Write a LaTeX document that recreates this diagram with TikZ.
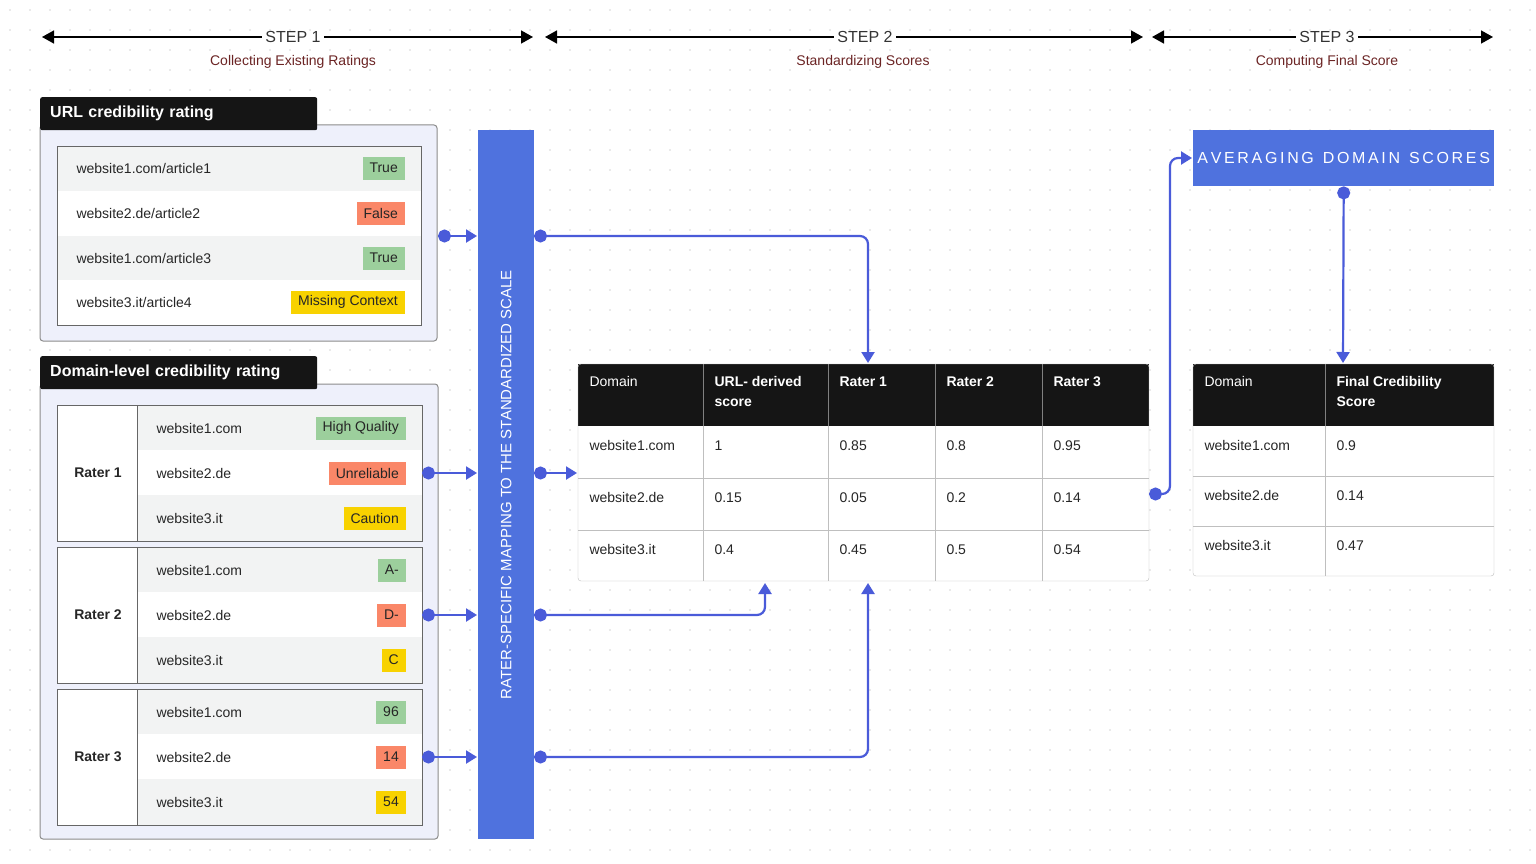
\documentclass[tikz,border=0pt]{standalone}
\usepackage{fontspec}
\setmainfont{Liberation Sans}
\usetikzlibrary{positioning,arrows.meta}
\definecolor{barblue}{HTML}{4F72DE}
\definecolor{linkblue}{HTML}{4A5BD9}
\definecolor{panelbg}{HTML}{EEF0FB}
\definecolor{rowgray}{HTML}{F2F3F3}
\definecolor{tgreen}{HTML}{9CCF9C}
\definecolor{tred}{HTML}{FA8768}
\definecolor{tyellow}{HTML}{F8D200}
\definecolor{subred}{HTML}{6B2424}
\definecolor{dotgray}{HTML}{D6D6D6}
\definecolor{headblack}{HTML}{151515}
\tikzset{
  body/.style={font=\fontsize{14}{16}\selectfont, text=black!85},
  tagbox/.style={body, inner xsep=7, inner ysep=0, minimum height=23, anchor=east},
  panelhead/.style={fill=headblack, text=white, font=\fontsize{16}{18}\selectfont\bfseries, anchor=north west, minimum width=277, minimum height=33, text width=257, inner xsep=10, rounded corners=2},
  panel/.style={fill=panelbg, draw=black!45, line width=1, rounded corners=3},
  conn/.style={linkblue, line width=2.2, {Circle[length=13pt]}-{Triangle[length=11pt,width=13pt]}, rounded corners=8},
  steptext/.style={font=\fontsize{16}{18}\selectfont, text=black!80},
  subtext/.style={font=\fontsize{14}{16}\selectfont, text=subred},
  steptip/.style={line width=1.6, {Triangle[length=12pt,width=13pt]}-},
  steptipb/.style={line width=1.6, -{Triangle[length=12pt,width=13pt]}},
  th/.style={font=\fontsize{14}{20}\selectfont\bfseries, text=white, anchor=north west, align=left},
  td/.style={body, anchor=north west}
}
\begin{document}
\begin{tikzpicture}[x=1pt,y=-1pt]
\useasboundingbox (0,0) rectangle (1536,864);
\fill[white] (0,0) rectangle (1536,864);
\foreach \x in {10,30,...,1530}
  \foreach \y in {10,30,...,850}
    \fill[dotgray] (\x,\y) circle (0.9);

% steps
\node[steptext] (s1) at (293,37) {STEP 1};
\node[subtext] (s1sub) at (293,62) {Collecting Existing Ratings};
\node[steptext] (s2) at (865,37) {STEP 2};
\node[subtext] (s2sub) at (863,62) {Standardizing Scores};
\node[steptext] (s3) at (1327,37) {STEP 3};
\node[subtext] (s3sub) at (1327,62) {Computing Final Score};
\coordinate (s1a) at (42,37);  \coordinate (s1b) at (533,37);
\coordinate (s2a) at (545,37); \coordinate (s2b) at (1143,37);
\coordinate (s3a) at (1152,37); \coordinate (s3b) at (1493,37);
\draw[steptip] (s1a) -- (s1.west);
\draw[steptipb] (s1.east) -- (s1b);
\draw[steptip] (s2a) -- (s2.west);
\draw[steptipb] (s2.east) -- (s2b);
\draw[steptip] (s3a) -- (s3.west);
\draw[steptipb] (s3.east) -- (s3b);

% URL credibility rating
\draw[panel] (40,125) rectangle (437,341);
\node[panelhead] (urlhead) at (40,97) {URL credibility rating};
\fill[white] (57,146) rectangle (421,325);
\fill[rowgray] (57,146) rectangle (421,191);
\fill[rowgray] (57,236) rectangle (421,280);
\draw[black!60, line width=1] (57,146) rectangle (421,325);
\node[td, anchor=west] (u1) at (73,168) {website1.com/article1};
\node[td, anchor=west] (u2) at (73,213) {website2.de/article2};
\node[td, anchor=west] (u3) at (73,258) {website1.com/article3};
\node[td, anchor=west] (u4) at (73,302) {website3.it/article4};
\node[tagbox, fill=tgreen] (t1) at (405,168) {True};
\node[tagbox, fill=tred] (t2) at (405,213) {False};
\node[tagbox, fill=tgreen] (t3) at (405,258) {True};
\node[tagbox, fill=tyellow] (t4) at (405,302) {Missing Context};

% Domain-level credibility rating
\draw[panel] (40,384) rectangle (438,839);
\node[panelhead] (domhead) at (40,356) {Domain-level credibility rating};
\foreach \g/\top/\rater in {1/405/Rater 1, 2/547/Rater 2, 3/689/Rater 3} {
  \fill[white] (57,\top) rectangle (422,\top+136);
  \fill[rowgray] (137,\top) rectangle (422,\top+45);
  \fill[rowgray] (137,\top+90) rectangle (422,\top+136);
  \draw[black!60, line width=1] (57,\top) rectangle (422,\top+136);
  \draw[black!60, line width=1] (137,\top) -- (137,\top+136);
  \node[body, font=\fontsize{14}{16}\selectfont\bfseries] (r\g) at (98,\top+68) {\rater};
  \node[td, anchor=west] (d\g a) at (153,\top+23) {website1.com};
  \node[td, anchor=west] (d\g b) at (153,\top+68) {website2.de};
  \node[td, anchor=west] (d\g c) at (153,\top+113) {website3.it};
}
\node[tagbox, fill=tgreen] at (406,428) {High Quality};
\node[tagbox, fill=tred] at (406,473) {Unreliable};
\node[tagbox, fill=tyellow] at (406,518) {Caution};
\node[tagbox, fill=tgreen] at (406,570) {A-};
\node[tagbox, fill=tred] at (406,615) {D-};
\node[tagbox, fill=tyellow] at (406,660) {C};
\node[tagbox, fill=tgreen] at (406,712) {96};
\node[tagbox, fill=tred] at (406,757) {14};
\node[tagbox, fill=tyellow] at (406,802) {54};

% mapping bar
\node[fill=barblue, minimum width=56, minimum height=709, anchor=north west, inner sep=0] (bar) at (478,130) {};
\node[rotate=90, text=white, font=\fontsize{15}{17}\selectfont] (bartext) at (bar.center) {RATER-SPECIFIC MAPPING TO THE STANDARDIZED SCALE};

% standardized table
\fill[white] (578,364) rectangle (1149,581);
\fill[headblack] (578,364) rectangle (1149,426);
\foreach \y in {478,530} \draw[black!25] (578,\y) -- (1149,\y);
\foreach \x in {703,828,935,1042} \draw[black!25] (\x,426) -- (\x,581);
\foreach \x in {703,828,935,1042} \draw[black!50] (\x,364) -- (\x,426);
\draw[black!25, rounded corners=3] (578,364) rectangle (1149,581);
\node[th, font=\fontsize{14}{20}\selectfont] (h1) at (586,373) {Domain};
\node[th] (h2) at (711,373) {URL- derived\\score};
\node[th] (h3) at (836,373) {Rater 1};
\node[th] (h4) at (943,373) {Rater 2};
\node[th] (h5) at (1050,373) {Rater 3};
\foreach \y/\d/\a/\b/\c/\e in {437/website1.com/1/0.85/0.8/0.95, 489/website2.de/0.15/0.05/0.2/0.14, 541/website3.it/0.4/0.45/0.5/0.54} {
  \node[td] at (586,\y) {\d};
  \node[td] at (711,\y) {\a};
  \node[td] at (836,\y) {\b};
  \node[td] at (943,\y) {\c};
  \node[td] at (1050,\y) {\e};
}

% averaging box
\node[fill=barblue, minimum width=301, minimum height=56, anchor=north west, inner sep=0, text=white, font=\fontsize{16}{18}\selectfont] (avg) at (1193,130) {A\,V\,E\,R\,A\,G\,I\,N\,G\ \ D\,O\,M\,A\,I\,N\ \ S\,C\,O\,R\,E\,S};

% final table
\fill[white] (1193,364) rectangle (1494,576);
\fill[headblack] (1193,364) rectangle (1494,426);
\foreach \y in {476,526} \draw[black!25] (1193,\y) -- (1494,\y);
\draw[black!25] (1325,426) -- (1325,576);
\draw[black!50] (1325,364) -- (1325,426);
\draw[black!25, rounded corners=3] (1193,364) rectangle (1494,576);
\node[th, font=\fontsize{14}{20}\selectfont] (f1) at (1201,373) {Domain};
\node[th] (f2) at (1333,373) {Final Credibility\\Score};
\foreach \y/\d/\v in {437/website1.com/0.9, 487/website2.de/0.14, 537/website3.it/0.47} {
  \node[td] at (1201,\y) {\d};
  \node[td] at (1333,\y) {\v};
}

% connectors
\coordinate (uout) at (438,236);  \coordinate (uin) at (477,236);
\coordinate (r1out) at (422,473); \coordinate (r1in) at (477,473);
\coordinate (r2out) at (422,615); \coordinate (r2in) at (477,615);
\coordinate (r3out) at (422,757); \coordinate (r3in) at (477,757);
\coordinate (b1) at (534,236); \coordinate (tabtop) at (868,363);
\coordinate (b2) at (534,473); \coordinate (tableft) at (577,473);
\coordinate (b3) at (534,615); \coordinate (tabbotA) at (765,583);
\coordinate (b4) at (534,757); \coordinate (tabbotB) at (868,583);
\coordinate (tabright) at (1149,494); \coordinate (avgin) at (1192,158);
\coordinate (finaltop) at (1343,363);
\draw[conn] (uout) -- (uin);
\draw[conn] (r1out) -- (r1in);
\draw[conn] (r2out) -- (r2in);
\draw[conn] (r3out) -- (r3in);
\draw[conn] (b1) -| (tabtop);
\draw[conn] (b2) -- (tableft);
\draw[conn] (b3) -| (tabbotA);
\draw[conn] (b4) -| (tabbotB);
\draw[conn] (tabright) -- ++(21,0) |- (avgin);
\draw[conn] (avg.south) -- (finaltop);
\end{tikzpicture}
\end{document}
